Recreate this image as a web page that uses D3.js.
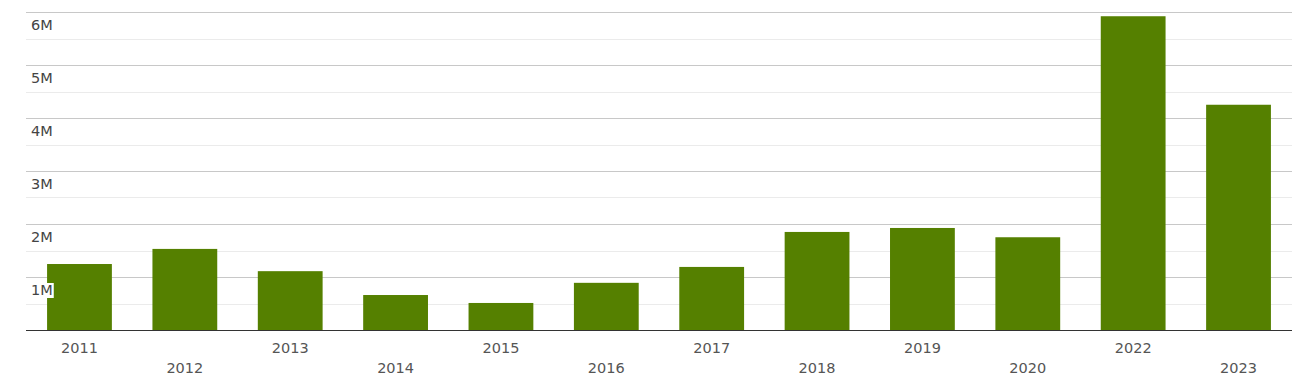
<!DOCTYPE html>
<html>
<head>
<meta charset="utf-8">
<script src="https://cdn.jsdelivr.net/npm/d3@7"></script>
<style>
  body { margin: 0; background: #fff; }
  text { font-family: "DejaVu Sans", sans-serif; }
</style>
</head>
<body>
<div id="chart"></div>
<script>
// data
var years = ["2011", "2012", "2013", "2014", "2015", "2016", "2017", "2018", "2019", "2020", "2022", "2023"];
var values = [1245000, 1530000, 1110000, 660000, 510000, 890000, 1190000, 1850000, 1925000, 1750000, 5920000, 4250000];
var yTicks = [1000000, 2000000, 3000000, 4000000, 5000000, 6000000];
var yTickLabels = ["1M", "2M", "3M", "4M", "5M", "6M"];

var svgWidth = 1293;
var svgHeight = 384;
var margin = { top: 12, bottom: 54, left: 26, right: 1 };
var width = svgWidth - margin.left - margin.right;
var height = svgHeight - margin.top - margin.bottom;

var svg = d3.select("#chart")
  .append("svg")
  .attr("width", svgWidth)
  .attr("height", svgHeight);

var chartGroup = svg.append("g")
  .attr("transform", `translate(${margin.left}, ${margin.top})`);

var xScale = d3.scaleBand()
  .domain(years)
  .range([0, width])
  .paddingInner(0.385)
  .paddingOuter(0.2);

var yScale = d3.scaleLinear()
  .domain([0, 6000000])
  .range([height, 0]);

// minor gridlines
var minor = d3.range(500000, 6000000, 1000000);
chartGroup.selectAll(".minor")
  .data(minor)
  .enter()
  .append("line")
  .attr("x1", 0)
  .attr("x2", width)
  .attr("y1", d => Math.round(yScale(d)) + 0.5)
  .attr("y2", d => Math.round(yScale(d)) + 0.5)
  .attr("stroke", "#ebebeb");

// major gridlines
chartGroup.selectAll(".major")
  .data(yTicks)
  .enter()
  .append("line")
  .attr("x1", 0)
  .attr("x2", width)
  .attr("y1", d => Math.round(yScale(d)) + 0.5)
  .attr("y2", d => Math.round(yScale(d)) + 0.5)
  .attr("stroke", "#c8c8c8");

// bars
chartGroup.selectAll("rect.bar")
  .data(values)
  .enter()
  .append("rect")
  .attr("class", "bar")
  .attr("x", (d, i) => xScale(years[i]))
  .attr("width", xScale.bandwidth())
  .attr("y", d => yScale(d))
  .attr("height", d => height - yScale(d))
  .attr("fill", "#558000");

// baseline
chartGroup.append("line")
  .attr("x1", 0)
  .attr("x2", width)
  .attr("y1", height + 0.5)
  .attr("y2", height + 0.5)
  .attr("stroke", "#333")
  .attr("stroke-width", 1);

// y tick labels with white background
var yLabels = chartGroup.selectAll(".ylab")
  .data(yTicks)
  .enter()
  .append("g")
  .attr("transform", d => `translate(5, ${yScale(d) + 18})`);

yLabels.append("text")
  .attr("x", 0)
  .attr("y", 0)
  .attr("font-size", 14.5)
  .attr("fill", "#444")
  .text((d, i) => yTickLabels[i])
  .each(function() {
    var bb = this.getBBox();
    d3.select(this.parentNode).insert("rect", "text")
      .attr("x", bb.x - 1)
      .attr("y", bb.y + 1)
      .attr("width", bb.width + 2)
      .attr("height", bb.height - 1)
      .attr("fill", "#fff");
  });

// x labels, alternating rows
chartGroup.selectAll(".xlab")
  .data(years)
  .enter()
  .append("text")
  .attr("x", d => xScale(d) + xScale.bandwidth() / 2)
  .attr("y", (d, i) => height + (i % 2 === 0 ? 23 : 43))
  .attr("text-anchor", "middle")
  .attr("font-size", 14.5)
  .attr("fill", "#555")
  .text(d => d);
</script>
</body>
</html>
